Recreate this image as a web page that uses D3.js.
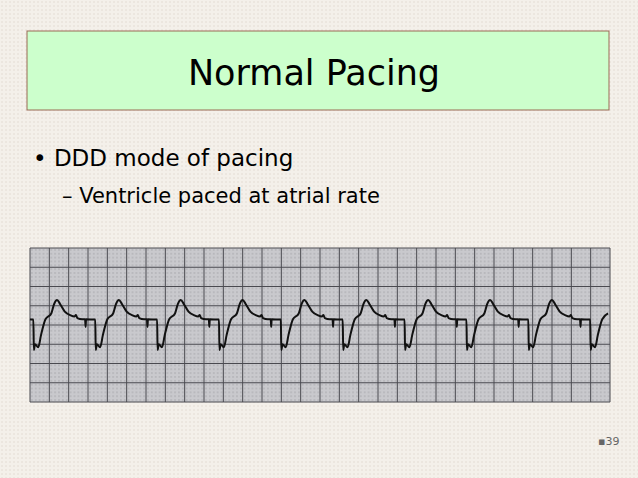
<!DOCTYPE html>
<html><head><meta charset="utf-8">
<script src="https://cdn.jsdelivr.net/npm/d3@7"></script>
<style>body{margin:0;background:#f4f0ea}</style>
</head><body>
<svg id="slide"></svg>
<script>
// Slide texts
const title = 'Normal Pacing';
const bullet = 'DDD mode of pacing';
const subBullet = 'Ventricle paced at atrial rate';
const pageNum = '39';

// ECG: spike times (s) and one paced-beat template (offset s, mV)
const beatTimes = [0.04, 0.68, 1.32, 1.96, 2.60, 3.24, 3.88, 4.52, 5.16, 5.80];
const tplT = [-0.14, -0.11, -0.105, -0.10, -0.02, -0.005, 0.0, 0.012, 0.045, 0.075, 0.12, 0.18, 0.21, 0.24, 0.27, 0.32, 0.38, 0.42, 0.435, 0.45, 0.50];
const tplV = [0.05, 0.05, -0.15, 0.05, 0.04, 0.04, -0.75, -0.6, -0.68, -0.35, 0.05, 0.2, 0.45, 0.55, 0.45, 0.25, 0.15, 0.12, 0.16, 0.08, 0.05];

const width = 638, height = 478;
const svg = d3.select('#slide').attr('width', width).attr('height', height);

// dotted slide background
const defs = svg.append('defs');
defs.append('pattern').attr('id', 'bgdots').attr('width', 4).attr('height', 4).attr('patternUnits', 'userSpaceOnUse')
  .append('circle').attr('cx', 2).attr('cy', 2).attr('r', 0.7).attr('fill', '#ddd5cb');
svg.append('rect').attr('width', width).attr('height', height).attr('fill', '#f4f0ea');
svg.append('rect').attr('width', width).attr('height', height).attr('fill', 'url(#bgdots)');

// title box
svg.append('rect').attr('x', 27).attr('y', 31).attr('width', 582).attr('height', 79)
  .attr('fill', '#ccffcc').attr('stroke', '#9a6a55').attr('stroke-width', 1);
const font = '"Comic Sans MS", "DejaVu Sans", sans-serif';
svg.append('text').attr('x', 314).attr('y', 85).attr('text-anchor', 'middle')
  .attr('font-family', font).attr('font-size', 35).text(title);
svg.append('text').attr('x', 33).attr('y', 166).attr('font-family', font).attr('font-size', 23).text('• ' + bullet);
svg.append('text').attr('x', 62).attr('y', 203).attr('font-family', font).attr('font-size', 21).text('– ' + subBullet);
svg.append('text').attr('x', 598).attr('y', 445).attr('font-family', font).attr('font-size', 11).attr('fill', '#666').text('▪' + pageNum);

// ECG strip
const x = d3.scaleLinear().domain([0, 6]).range([30, 610]);
const y = d3.scaleLinear().domain([-2.1, 1.9]).range([402, 248]);

defs.append('pattern').attr('id', 'ecgdots').attr('width', 3.87).attr('height', 3.85).attr('patternUnits', 'userSpaceOnUse')
  .attr('x', 30).attr('y', 248)
  .append('rect').attr('x', 1.4).attr('y', 1.4).attr('width', 1).attr('height', 1).attr('fill', '#8a8a90');
svg.append('rect').attr('x', x(0)).attr('y', y(1.9)).attr('width', x(6) - x(0)).attr('height', y(-2.1) - y(1.9)).attr('fill', '#c9c9cd');
svg.append('rect').attr('x', x(0)).attr('y', y(1.9)).attr('width', x(6) - x(0)).attr('height', y(-2.1) - y(1.9)).attr('fill', 'url(#ecgdots)');

const g = svg.append('g').attr('stroke', '#4a4a50').attr('stroke-width', 1);
g.selectAll('line.v').data(d3.range(0, 6.001, 0.2)).join('line')
  .attr('x1', d => x(d)).attr('x2', d => x(d)).attr('y1', y(1.9)).attr('y2', y(-2.1));
g.selectAll('line.h').data(d3.range(-2.1, 1.901, 0.5)).join('line')
  .attr('y1', d => y(d)).attr('y2', d => y(d)).attr('x1', x(0)).attr('x2', x(6));

// build trace from template
let pts = [];
beatTimes.forEach(b => tplT.forEach((t, i) => pts.push([b + t, tplV[i]])));
pts = pts.filter(p => p[0] >= 0 && p[0] <= 6);
pts.unshift([0, 0.05]);
svg.append('path').datum(pts)
  .attr('d', d3.line().x(d => x(d[0])).y(d => y(d[1])).curve(d3.curveMonotoneX))
  .attr('fill', 'none').attr('stroke', '#111').attr('stroke-width', 2);
</script>
</body></html>
